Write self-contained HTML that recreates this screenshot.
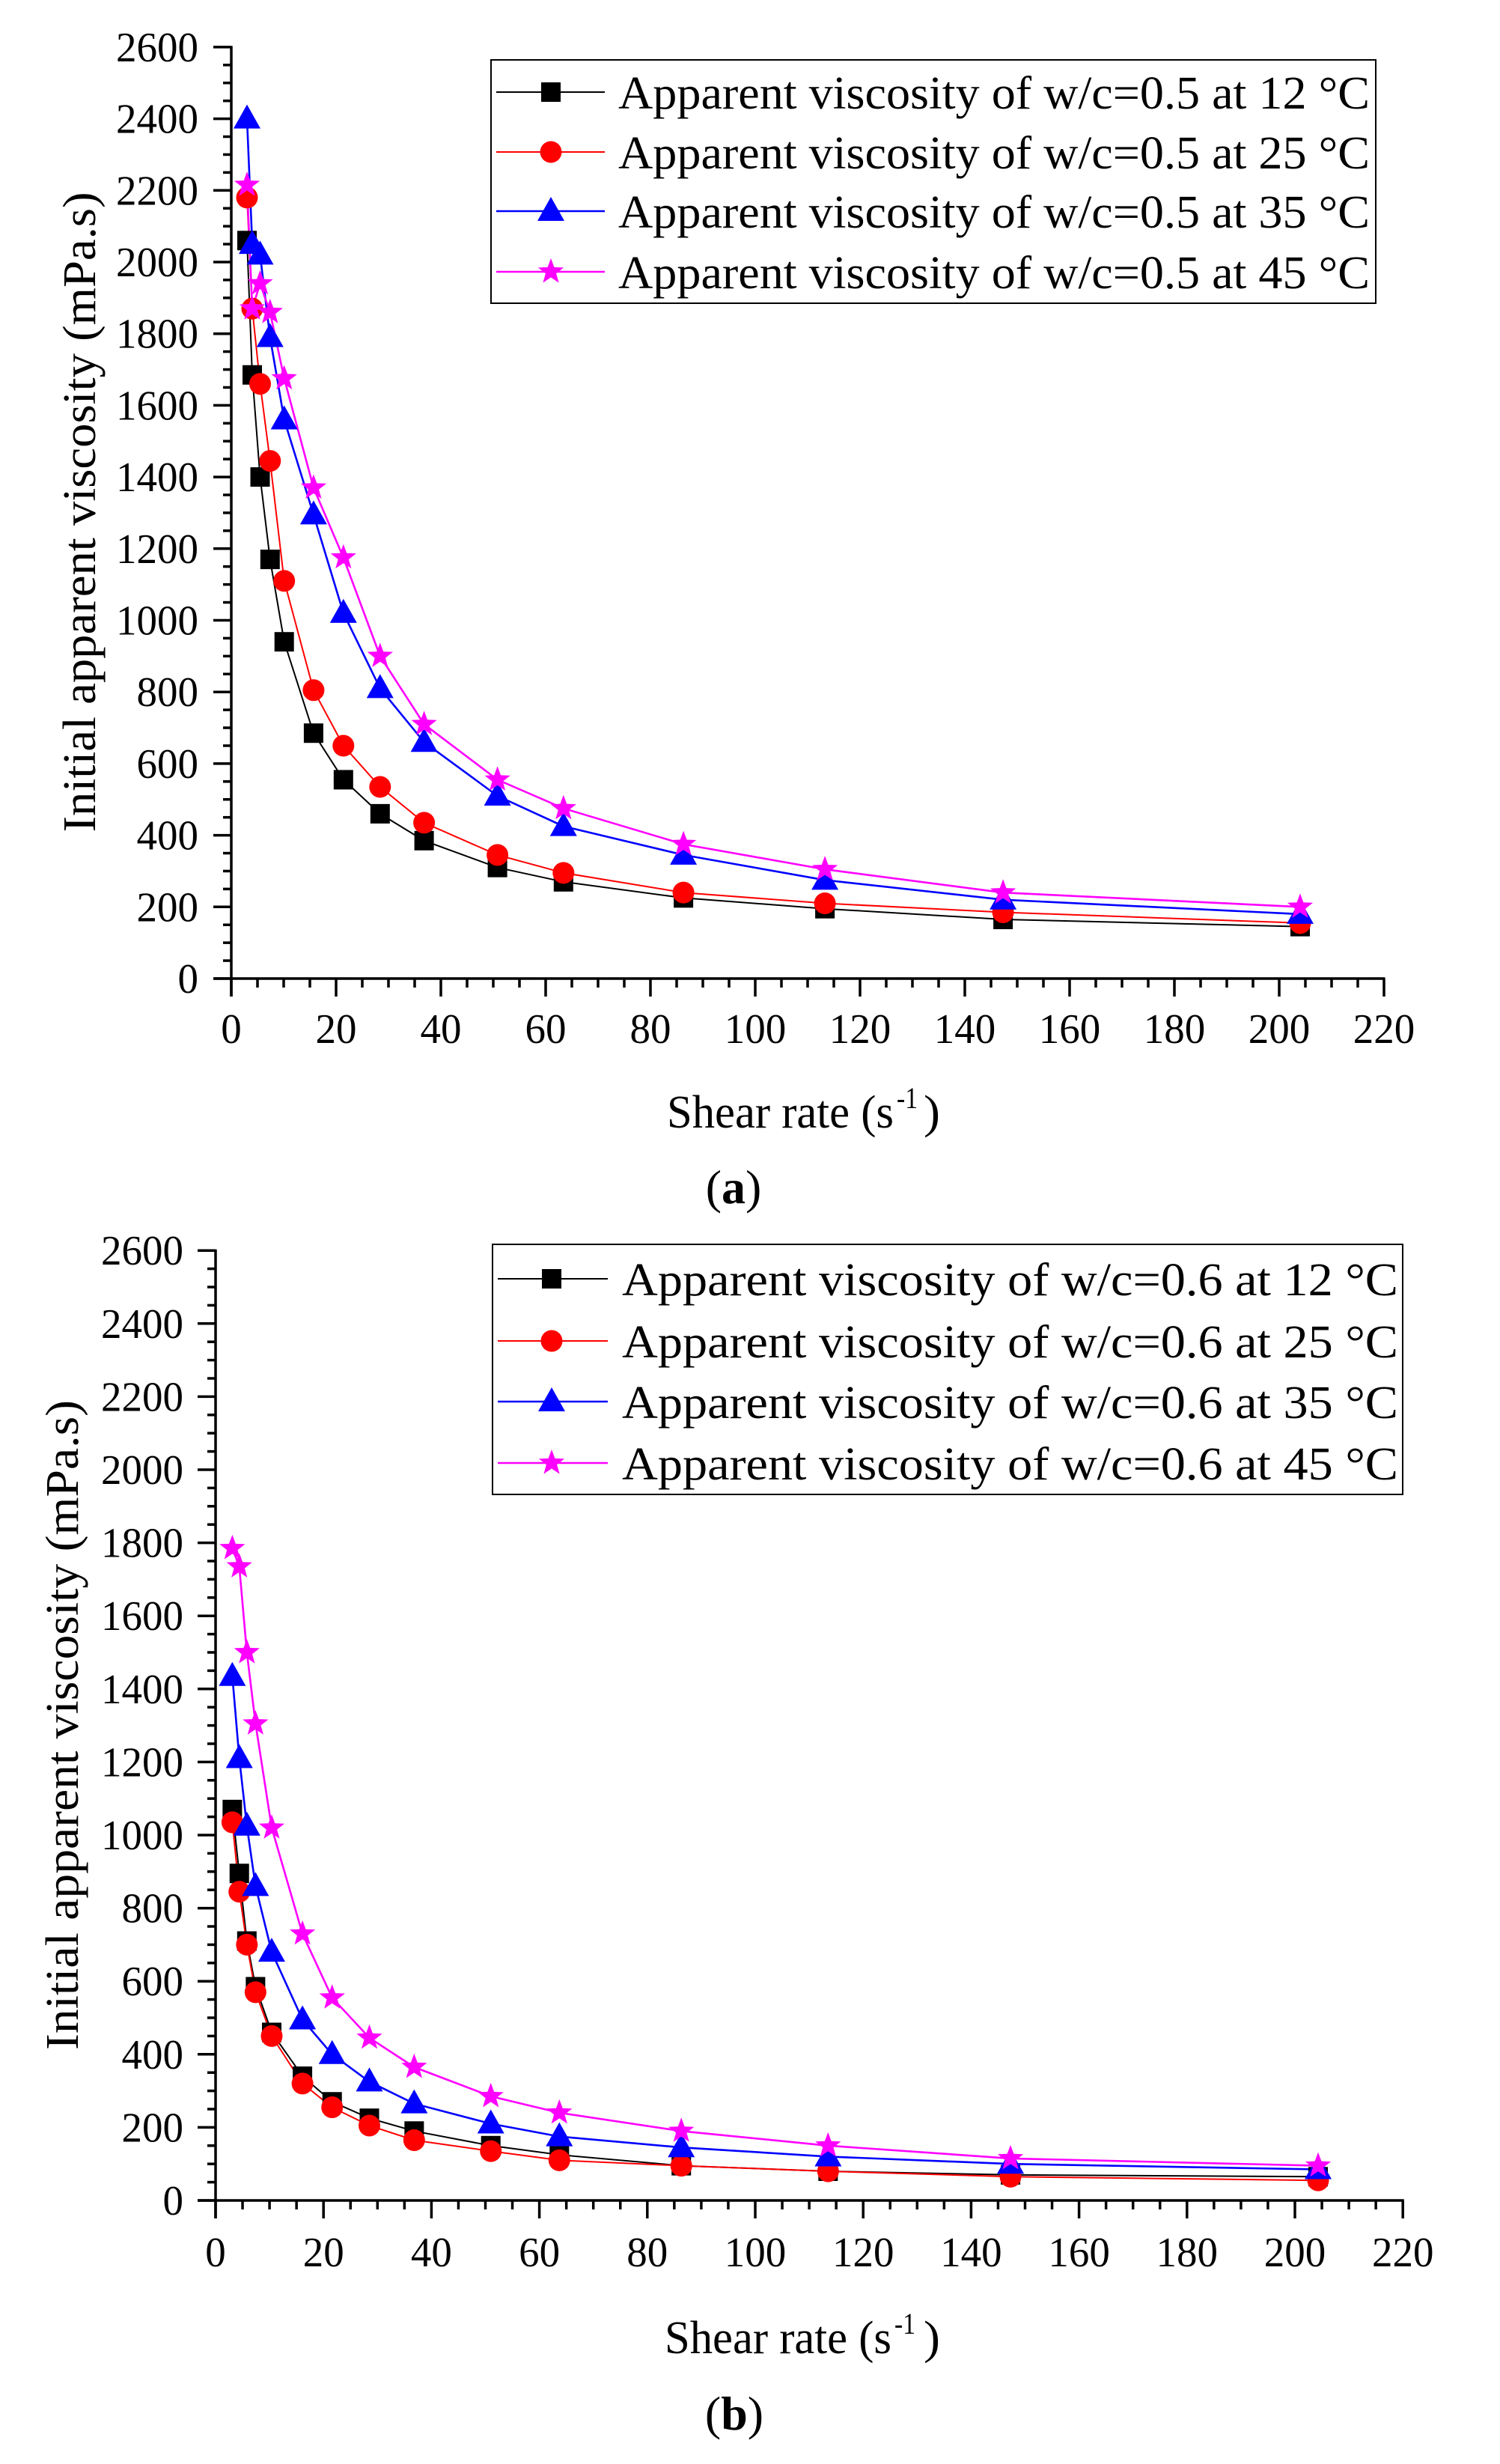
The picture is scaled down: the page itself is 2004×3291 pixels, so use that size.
<!DOCTYPE html>
<html><head><meta charset="utf-8"><style>
html,body{margin:0;padding:0;background:#fff;}
svg{display:block;}
text{font-family:"Liberation Serif","Times New Roman",serif;fill:#000;}
</style></head><body>
<svg id="s" width="2004" height="3291" xmlns="http://www.w3.org/2000/svg">
<g id="ticks"></g>
<text x="0" y="0" font-size="62" text-anchor="middle" textLength="855" lengthAdjust="spacingAndGlyphs" transform="translate(127,684) rotate(-90)">Initial apparent viscosity (mPa.s)</text>
<text x="891" y="1506" font-size="62" textLength="303" lengthAdjust="spacingAndGlyphs">Shear rate (s</text>
<text x="1198" y="1480" font-size="40" textLength="28" lengthAdjust="spacingAndGlyphs">-1</text>
<text x="1234" y="1506" font-size="62" textLength="22" lengthAdjust="spacingAndGlyphs">)</text>
<text x="980" y="1607" font-size="64" text-anchor="middle">(<tspan font-weight="bold">a</tspan>)</text>
<g font-size="62">
<text x="826" y="145" textLength="1004" lengthAdjust="spacingAndGlyphs">Apparent viscosity of w/c=0.5 at 12 °C</text>
<text x="826" y="225" textLength="1004" lengthAdjust="spacingAndGlyphs">Apparent viscosity of w/c=0.5 at 25 °C</text>
<text x="826" y="304" textLength="1004" lengthAdjust="spacingAndGlyphs">Apparent viscosity of w/c=0.5 at 35 °C</text>
<text x="826" y="385" textLength="1004" lengthAdjust="spacingAndGlyphs">Apparent viscosity of w/c=0.5 at 45 °C</text>
</g>
<text x="0" y="0" font-size="62" text-anchor="middle" textLength="868" lengthAdjust="spacingAndGlyphs" transform="translate(104,2304) rotate(-90)">Initial apparent viscosity (mPa.s)</text>
<text x="888" y="3143" font-size="62" textLength="303" lengthAdjust="spacingAndGlyphs">Shear rate (s</text>
<text x="1195" y="3117" font-size="40" textLength="28" lengthAdjust="spacingAndGlyphs">-1</text>
<text x="1234" y="3143" font-size="62" textLength="22" lengthAdjust="spacingAndGlyphs">)</text>
<text x="981" y="3245" font-size="64" text-anchor="middle">(<tspan font-weight="bold">b</tspan>)</text>
<g font-size="62">
<text x="831" y="1730" textLength="1037" lengthAdjust="spacingAndGlyphs">Apparent viscosity of w/c=0.6 at 12 °C</text>
<text x="831" y="1813" textLength="1037" lengthAdjust="spacingAndGlyphs">Apparent viscosity of w/c=0.6 at 25 °C</text>
<text x="831" y="1894" textLength="1037" lengthAdjust="spacingAndGlyphs">Apparent viscosity of w/c=0.6 at 35 °C</text>
<text x="831" y="1976" textLength="1037" lengthAdjust="spacingAndGlyphs">Apparent viscosity of w/c=0.6 at 45 °C</text>
</g>
<g id="dyn"></g>
</svg>
<script>
(function(){
var g=document.getElementById("dyn"),h="",t="";
function ln(x1,y1,x2,y2,c,w){h+='<line x1="'+x1+'" y1="'+y1+'" x2="'+x2+'" y2="'+y2+'" stroke="'+c+'" stroke-width="'+w+'"/>';}
function star(x,y,R,r){var p=[];for(var i=0;i<10;i++){var a=-Math.PI/2+i*Math.PI/5,rr=i%2?r:R;p.push((x+rr*Math.cos(a)).toFixed(1)+","+(y+rr*Math.sin(a)).toFixed(1));}return p.join(" ");}
function marker(s,x,y){
 if(s==0)h+='<rect x="'+(x-13)+'" y="'+(y-13)+'" width="26" height="26" fill="#000"/>';
 else if(s==1)h+='<circle cx="'+x+'" cy="'+y+'" r="14.5" fill="#f00"/>';
 else if(s==2)h+='<polygon points="'+x+','+(y-19)+' '+(x+18)+','+(y+13)+' '+(x-18)+','+(y+13)+'" fill="#00f"/>';
 else h+='<polygon points="'+star(x,y,18,7.5)+'" fill="#f0f"/>';
}
function txt(x,y,s,anchor){var w=s.length*27.5;
 t+='<text x="'+x+'" y="'+y+'" font-size="56" text-anchor="'+anchor+'" textLength="'+w+'" lengthAdjust="spacingAndGlyphs">'+s+'</text>';}
var cols=["#000","#f00","#00f","#f0f"],wid=[2,2,2.6,2.6];
function chart(c){
 var X=function(v){return c.x0+v*c.kx},Y=function(v){return c.y0-v*c.ky};
 var yt=Y(2600),xe=X(220);
 ln(c.x0,yt-1.5,c.x0,c.y0+24,"#000",3.5);
 ln(c.x0-24,c.y0,xe+1.5,c.y0,"#000",3.5);
 for(var v=0;v<=2600;v+=50){var big=v%200==0;ln(c.x0-(big?24:11),Y(v),c.x0,Y(v),"#000",3.5);
  if(big)txt(c.lx,Y(v)+19,String(v),"end");}
 for(var v=0;v<=220;v+=5){var big=v%20==0;ln(X(v),c.y0,X(v),c.y0+(big?24:12),"#000",3.5);
  if(big)txt(X(v),c.ty,String(v),"middle");}
 for(var s=0;s<4;s++){var pts=c.xs.map(function(x,i){return X(x).toFixed(1)+","+Y(c.d[s][i]).toFixed(1)}).join(" ");
  h+='<polyline points="'+pts+'" fill="none" stroke="'+cols[s]+'" stroke-width="'+wid[s]+'"/>';}
 for(var s=0;s<4;s++)for(var i=0;i<c.xs.length;i++)marker(s,X(c.xs[i]),Y(c.d[s][i]));
 var L=c.leg;h+='<rect x="'+L.x+'" y="'+L.y+'" width="'+L.w+'" height="'+L.h+'" fill="none" stroke="#000" stroke-width="2"/>';
 for(var s=0;s<4;s++){ln(L.l1,L.rows[s],L.l2,L.rows[s],cols[s],wid[s]);marker(s,L.m,L.rows[s]);}
}
chart({x0:309,kx:7.0,y0:1307,ky:0.4785,lx:265,ty:1393,
 xs:[3.0,4.0,5.5,7.4,10.1,15.7,21.4,28.4,36.8,50.8,63.4,86.3,113.3,147.3,204],
 d:[[2060,1685,1400,1170,940,685,555,460,385,310,270,225,195,165,145],
    [2180,1870,1660,1445,1110,805,650,535,435,345,295,240,210,185,155],
    [2400,2050,2020,1790,1560,1295,1020,810,660,510,425,345,275,220,180],
    [2215,1870,1940,1860,1675,1370,1175,900,710,555,475,375,305,240,200]],
 leg:{x:656,y:80,w:1182,h:325,l1:663,l2:808,m:736,rows:[123,203,282,363]}});
chart({x0:288,kx:7.21,y0:2939,ky:0.488,lx:245,ty:3027,
 xs:[3.1,4.4,5.8,7.4,10.4,16.1,21.6,28.5,36.8,51,63.7,86.3,113.5,147.3,204.3],
 d:[[1070,895,710,585,460,340,270,225,190,150,125,95,80,70,65],
    [1035,845,700,570,450,320,255,205,165,135,110,95,80,65,55],
    [1435,1210,1025,860,680,495,400,325,265,210,175,145,120,100,85],
    [1785,1735,1500,1305,1020,730,555,445,365,285,240,190,150,115,95]],
 leg:{x:658,y:1662,w:1216,h:334,l1:665,l2:812,m:737,rows:[1708,1791,1872,1954]}});
g.innerHTML=h;
document.getElementById("ticks").innerHTML=t;
})();
</script>
</body></html>
